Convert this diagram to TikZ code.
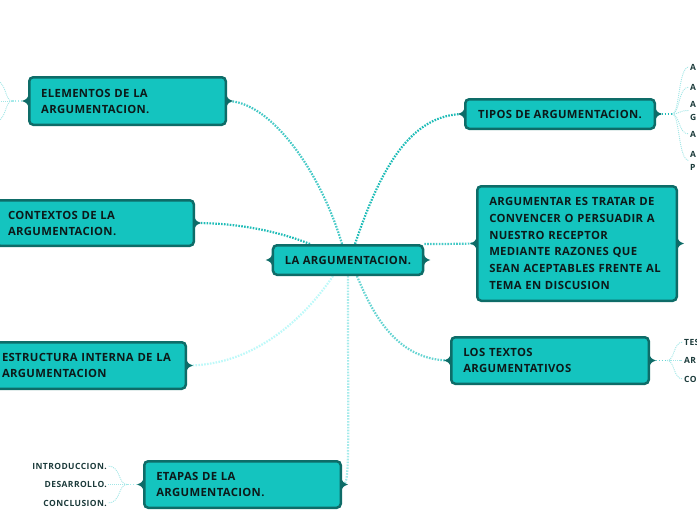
\documentclass[tikz,border=0pt]{standalone}
\usepackage{fontspec}
\setmainfont{Open Sans}
\newfontfamily\boxfont{Open Sans}[LetterSpace=3]
\newfontfamily\leaffont{Open Sans}[LetterSpace=5]
\usetikzlibrary{backgrounds}

\definecolor{boxfill}{HTML}{14C4BF}
\definecolor{boxline}{HTML}{0E6C68}
\definecolor{boxtext}{HTML}{0C1A1A}
\definecolor{leaftext}{HTML}{1C3B3B}
\definecolor{linkA}{HTML}{1FBCB7}
\definecolor{linkB}{HTML}{45C9C6}
\definecolor{linkC}{HTML}{66D4D2}
\definecolor{linkD}{HTML}{A6EBEB}
\definecolor{linkE}{HTML}{BDF9F9}
\definecolor{twigcol}{HTML}{A2E6E6}

\tikzset{
  topic/.style={draw=boxline, fill=boxfill, line width=2.5pt, rounded corners=4pt,
    inner xsep=12pt, inner ysep=3pt, align=left, text=boxtext,
    font=\boxfont\fontsize{11.3}{16}\selectfont\bfseries},
  leaf/.style={inner sep=1pt, text=leaftext, font=\leaffont\fontsize{8.5}{13}\selectfont\bfseries},
  link/.style={line width=2.2pt, dash pattern=on 1.6pt off 1.3pt},
  twig/.style={line width=0.9pt, dash pattern=on 1pt off 1pt, twigcol},
  tipR/.pic={\fill[boxline] (-1,-7) .. controls (1,-2) .. (6,0) .. controls (1,2) .. (-1,7) -- cycle;},
  tipL/.pic={\fill[boxline] (1,-7) .. controls (-1,-2) .. (-6,0) .. controls (-1,2) .. (1,7) -- cycle;}
}

\begin{document}
\begin{tikzpicture}[x=1pt, y=-1pt]
  \useasboundingbox (0,0) rectangle (697,520);

  % main topic and branches
  \node[topic, minimum width=149.5pt, minimum height=29.5pt] (hub) at (348,260) {LA ARGUMENTACION.};
  \node[topic, text width=172.5pt, minimum height=47.5pt] (elem) at (127.5,101) {ELEMENTOS DE LA\\ARGUMENTACION.};
  \node[topic, text width=173.75pt, minimum height=45.5pt] (cont) at (94.9,223) {CONTEXTOS DE LA\\ARGUMENTACION.};
  \node[topic, text width=171.75pt, minimum height=46.5pt] (estr) at (87.9,365.5) {ESTRUCTURA INTERNA DE LA\\ARGUMENTACION};
  \node[topic, text width=172.5pt, minimum height=46.5pt] (etap) at (242.5,484.5) {ETAPAS DE LA\\ARGUMENTACION.};
  \node[topic, minimum width=189.5pt, minimum height=29.5pt] (tipos) at (560,114) {TIPOS DE ARGUMENTACION.};
  \node[topic, text width=175.5pt, minimum height=114.5pt, font=\boxfont\fontsize{11.3}{16.7}\selectfont\bfseries] (argu) at (577,243.5)
    {ARGUMENTAR ES TRATAR DE\\CONVENCER O PERSUADIR A\\NUESTRO RECEPTOR\\MEDIANTE RAZONES QUE\\SEAN ACEPTABLES FRENTE AL\\TEMA EN DISCUSION};
  \node[topic, text width=173.5pt, minimum height=46.5pt] (text) at (550,360.5) {LOS TEXTOS\\ARGUMENTATIVOS};

  % brace tips
  \pic at (hub.west) {tipL};
  \pic at (hub.east) {tipR};
  \pic at (elem.west) {tipL};
  \pic at (elem.east) {tipR};
  \pic at (cont.east) {tipR};
  \pic at (estr.east) {tipR};
  \pic at (etap.west) {tipL};
  \pic at (etap.east) {tipR};
  \pic at (tipos.west) {tipL};
  \pic at (tipos.east) {tipR};
  \pic at (argu.west) {tipL};
  \pic at (argu.east) {tipR};
  \pic at (text.west) {tipL};
  \pic at (text.east) {tipR};

  % leaves
  \node[leaf, anchor=west] (ta) at (689,67) {A};
  \node[leaf, anchor=west] (tb) at (689,87) {A};
  \node[leaf, anchor=west, align=left] (tc) at (689,110.5) {A\\G};
  \node[leaf, anchor=west] (td) at (689,134) {A};
  \node[leaf, anchor=west, align=left] (te) at (689,160.5) {A\\P};
  \node[leaf, anchor=west] (xa) at (683,342) {TES};
  \node[leaf, anchor=west] (xb) at (683,360.5) {ARG};
  \node[leaf, anchor=west] (xc) at (683,379) {CO};
  \node[leaf, anchor=east] (ea) at (108,466) {INTRODUCCION.};
  \node[leaf, anchor=east] (eb) at (108,484.5) {DESARROLLO.};
  \node[leaf, anchor=east] (ec) at (108,503) {CONCLUSION.};

  \coordinate (tfan) at (672,114);
  \coordinate (xfan) at (667,360.5);
  \coordinate (efan) at (127,484.5);
  \coordinate (lfan) at (12,101);
  \coordinate (lup) at (-8,79);
  \coordinate (lmid) at (-8,101);
  \coordinate (ldown) at (-8,123);

  \begin{scope}[on background layer]
    \draw[link, linkB] (hub.north) ++(-6,0) .. controls (320,170) and (270,101) .. (elem.east);
    \draw[link, linkA] (hub.north) ++(-38,0) .. controls (280,232) and (240,223) .. (cont.east);
    \draw[link, linkA] (hub.north) ++(7,0) .. controls (380,170) and (410,114) .. (tipos.west);
    \draw[link, linkB] (hub.north east) .. controls (445,244) .. (argu.west);
    \draw[link, linkC] (hub.south) ++(9,0) .. controls (375,320) and (400,360.5) .. (text.west);
    \draw[link, linkD] (hub.south) .. controls (348,470) and (350,484.5) .. (etap.east);
    \draw[link, linkE] (hub.south) ++(-15,0) .. controls (310,310) and (260,365.5) .. (estr.east);

    % small branches
    \draw[link, linkA, line width=1.6pt] (tipos.east) -- (tfan);
    \foreach \t in {ta,tb,tc,td,te}
      \draw[twig] (tfan) .. controls (680,114) and (678,114 |- \t.west) .. (\t.west);
    \draw[link, linkC, line width=1.6pt] (text.east) -- (xfan);
    \foreach \t in {xa,xb,xc}
      \draw[twig] (xfan) .. controls (675,360.5) and (673,360.5 |- \t.west) .. (\t.west);
    \draw[link, linkD, line width=1.6pt] (etap.west) -- (efan);
    \foreach \t in {ea,eb,ec}
      \draw[twig] (efan) .. controls (118,484.5) and (121,484.5 |- \t.east) .. (\t.east);
    \draw[link, linkD, line width=1.6pt] (elem.west) -- (lfan);
    \draw[twig] (lfan) -- (lmid);
    \draw[twig] (lfan) .. controls (4,101) and (8,80) .. (lup);
    \draw[twig] (lfan) .. controls (4,101) and (8,122) .. (ldown);
  \end{scope}
\end{tikzpicture}
\end{document}
